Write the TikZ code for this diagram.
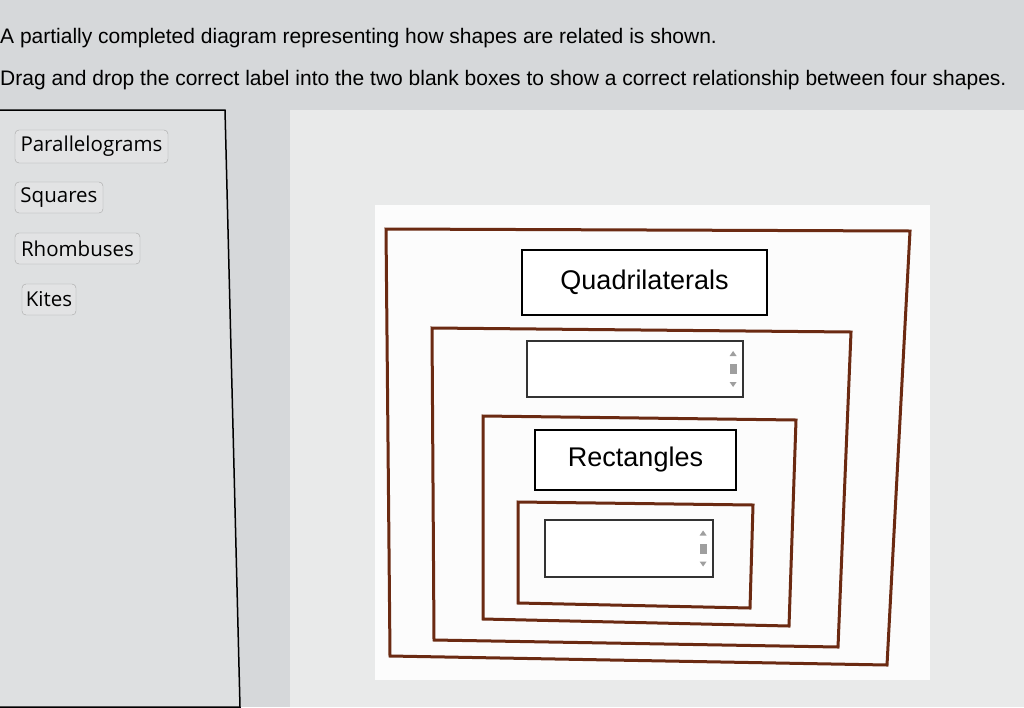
\documentclass[tikz,border=0pt]{standalone}
\usepackage{fontspec}
\setmainfont{Liberation Sans}
\newfontfamily\chipfont{Open Sans}
\definecolor{brn}{HTML}{6B2A12}
\definecolor{bgA}{HTML}{D6D8DA}
\definecolor{bgB}{HTML}{E9EAEA}
\definecolor{chipbg}{HTML}{E2E3E4}
\tikzset{
  chip/.style={draw=gray!70, fill=chipbg, rounded corners=4pt, inner sep=0pt, font=\chipfont\fontsize{20.5}{24}\selectfont, anchor=center},
  nest/.style={draw=brn, line width=3pt},
  lbl/.style={draw=black, line width=1.5pt, fill=white, font=\fontsize{27}{31}\selectfont},
  blank/.style={draw=black!80, line width=1.2pt, fill=white},
  hdr/.style={anchor=west, inner sep=0pt, font=\fontsize{21}{24}\selectfont}
}
\begin{document}
\begin{tikzpicture}[x=1pt,y=-1pt]
\useasboundingbox (0,0) rectangle (1024,707);
\fill[bgA] (0,0) rectangle (1024,707);
\fill[bgB] (290,110) rectangle (1024,707);
\fill[white!85!bgB] (375,205) rectangle (930,680);
\node[hdr] (t1) at (0,38) {A partially completed diagram representing how shapes are related is shown.};
\node[hdr] (t2) at (0,80) {Drag and drop the correct label into the two blank boxes to show a correct relationship between four shapes.};
% left panel
\draw[line width=1.5pt, fill=bgA!80!white] (0,110) -- (225,110) -- (240,707) -- (0,707);
\node[chip, minimum width=153pt, minimum height=33pt] (c1) at (91.5,146.5) {Parallelograms};
\node[chip, minimum width=88pt, minimum height=31pt] (c2) at (59,197.5) {Squares};
\node[chip, minimum width=125pt, minimum height=31pt] (c3) at (77.5,248.5) {Rhombuses};
\node[chip, minimum width=54pt, minimum height=31pt] (c4) at (49,299.5) {Kites};
% nested boxes
\draw[nest] (386,229) -- (910,231) -- (887,665) -- (390,656) -- cycle;
\draw[nest] (432,328) -- (851,332) -- (838,647) -- (434,640) -- cycle;
\draw[nest] (483,416) -- (796,420) -- (789,626) -- (483,619) -- cycle;
\draw[nest] (518,502) -- (753,505) -- (750,608) -- (518,603) -- cycle;
% labels
\node[lbl, minimum width=245pt, minimum height=65pt] (q) at (644.5,282.5) {Quadrilaterals};
\node[lbl, minimum width=201pt, minimum height=60pt] (r) at (635.5,460) {Rectangles};
\node[blank, minimum width=216pt, minimum height=56pt] (b1) at (635,369) {};
\node[blank, minimum width=168pt, minimum height=57pt] (b2) at (629,548.5) {};
% spinners
\foreach \b in {b1,b2}{
  \fill[gray!75] ([xshift=-14pt,yshift=-5pt]\b.east) rectangle ([xshift=-7pt,yshift=5pt]\b.east);
  \fill[gray!75] ([xshift=-14pt,yshift=-13pt]\b.east) -- ([xshift=-7pt,yshift=-13pt]\b.east) -- ([xshift=-10.5pt,yshift=-18pt]\b.east) -- cycle;
  \fill[gray!75] ([xshift=-14pt,yshift=13pt]\b.east) -- ([xshift=-7pt,yshift=13pt]\b.east) -- ([xshift=-10.5pt,yshift=18pt]\b.east) -- cycle;
}
\end{tikzpicture}
\end{document}
